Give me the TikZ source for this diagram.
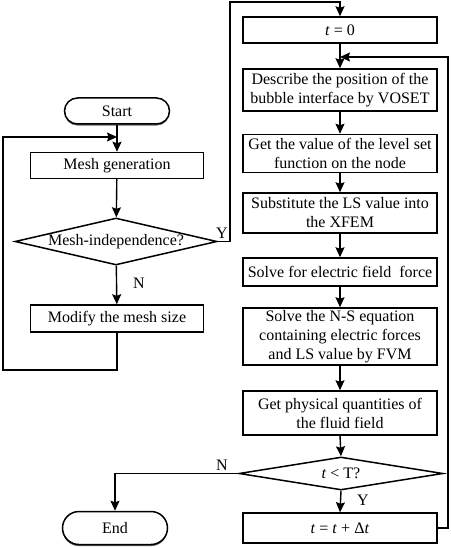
\documentclass[tikz,border=0pt]{standalone}
\usepackage{fontspec}
\setmainfont{Liberation Serif}
\usetikzlibrary{shapes.geometric,arrows.meta,shadows}
\begin{document}
\begin{tikzpicture}[x=1pt,y=-1pt,
  every node/.style={font=\fontsize{16}{19}\selectfont},
  lbox/.style={draw,line width=1.5pt,inner sep=0pt,align=center,minimum width=173pt,minimum height=#1},
  rbox/.style={draw,line width=1.5pt,inner sep=0pt,align=center,minimum width=194pt,minimum height=#1},
  term/.style={draw,fill=white,line width=1.5pt,inner sep=0pt,minimum width=105pt,minimum height=#1,rounded corners=#1/2,
    drop shadow={shadow xshift=0pt,shadow yshift=-1.6pt,fill=black!60,opacity=1}},
  dec/.style={draw,diamond,line width=1.5pt,inner sep=0pt,align=center},
  conn/.style={line width=1.4pt},
  arr/.style={conn,-{Stealth[length=10pt,width=9pt,inset=1.5pt]}},
  lab/.style={inner sep=0pt}
]
\useasboundingbox[fill=white] (0,0) rectangle (450,548);

% left column
\node[term=26pt] (start) at (117,111) {Start};
\node[lbox=26pt] (mesh) at (117,165.5) {Mesh generation};
\node[dec,minimum width=202pt,minimum height=47pt,aspect=4.3] (indep) at (116,241.5) {Mesh-independence?};
\node[lbox=27pt] (modify) at (117,318.5) {Modify the mesh size};
\node[term=33pt] (end) at (115,528) {End};

% right column
\node[rbox=26pt] (t0) at (340,30) {\textit{t} = 0};
\node[rbox=42pt] (describe) at (340,90) {Describe the position of the\\bubble interface by VOSET};
\node[rbox=38pt] (getval) at (340,153.5) {Get the value of the level set\\function on the node};
\node[rbox=40pt] (subst) at (340,213) {Substitute the LS value into\\the XFEM};
\node[rbox=28pt] (solveE) at (340,272) {Solve for electric field~ force};
\node[rbox=57pt] (ns) at (340,336.5) {Solve the N-S equation\\containing electric forces\\and LS value by FVM};
\node[rbox=44pt] (phys) at (340,413) {Get physical quantities of\\the fluid field};
\node[dec,minimum width=204pt,minimum height=33pt,aspect=6.2] (tlt) at (341,473.5) {\textit{t} {<} T?};
\node[rbox=30pt] (tnext) at (340,528) {\textit{t} = \textit{t} + Δ\textit{t}};

% labels
\node[lab] (y1) at (222,233) {Y};
\node[lab] (n1) at (139,283) {N};
\node[lab] (n2) at (222,465) {N};
\node[lab] (y2) at (363,500) {Y};

% coordinates
\coordinate (loopA) at (3,370);
\coordinate (joinA) at (117,137);
\coordinate (topY) at (230,2);
\coordinate (loopR) at (448,57);
\coordinate (joinR) at (340,57);

% left connectors
\draw[arr] (start) -- (mesh);
\draw[arr] (mesh) -- (indep);
\draw[arr] (indep) -- (modify);
\draw[arr] (modify.south) |- (loopA) |- (joinA);
\draw[arr] (indep.east) -| (topY) -| (t0.north);

% right connectors
\draw[arr] (t0) -- (describe);
\draw[arr] (describe) -- (getval);
\draw[arr] (getval) -- (subst);
\draw[arr] (subst) -- (solveE);
\draw[arr] (solveE) -- (ns);
\draw[arr] (ns) -- (phys);
\draw[arr] (phys.south) -- (tlt.north);
\draw[arr] (tlt.south) -- (tnext.north);
\draw[arr] (tnext.east) -| (loopR) -- (joinR);
\draw[arr] (tlt.west) -| (end.north);
\end{tikzpicture}
\end{document}
